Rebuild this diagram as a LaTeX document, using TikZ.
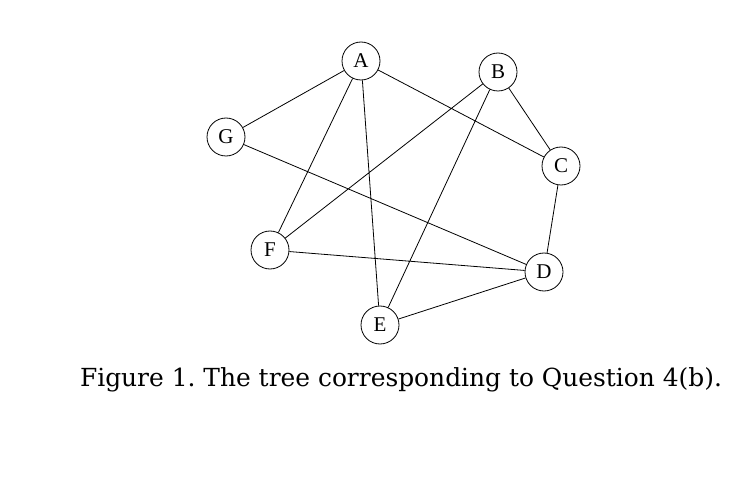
\documentclass[tikz,border=0pt]{standalone}
\usepackage{fontspec}
\setmainfont{Liberation Serif}
\newfontfamily\capfont{DejaVu Serif}
\frenchspacing
\begin{document}
\begin{tikzpicture}[x=1pt,y=-1pt,
  vtx/.style={circle,draw,line width=0.8pt,minimum size=38pt,inner sep=0pt,font=\fontsize{21}{21}\selectfont},
  edge/.style={line width=0.8pt}]
\useasboundingbox (0,0) rectangle (756,484);
\node[vtx] (A) at (361,61) {A};
\node[vtx] (B) at (498,72) {B};
\node[vtx] (G) at (226,137) {G};
\node[vtx] (C) at (561,166) {C};
\node[vtx] (F) at (270,250) {F};
\node[vtx] (D) at (544,272) {D};
\node[vtx] (E) at (380,325) {E};
\draw[edge] (A)--(G) (A)--(F) (A)--(E) (A)--(C) (B)--(C) (B)--(F) (B)--(E)
  (G)--(D) (C)--(D) (F)--(D) (E)--(D);
\node[font=\capfont\fontsize{24.9}{25}\selectfont] (cap) at (401,380) {Figure 1. The tree corresponding to Question 4(b).};
\end{tikzpicture}
\end{document}
